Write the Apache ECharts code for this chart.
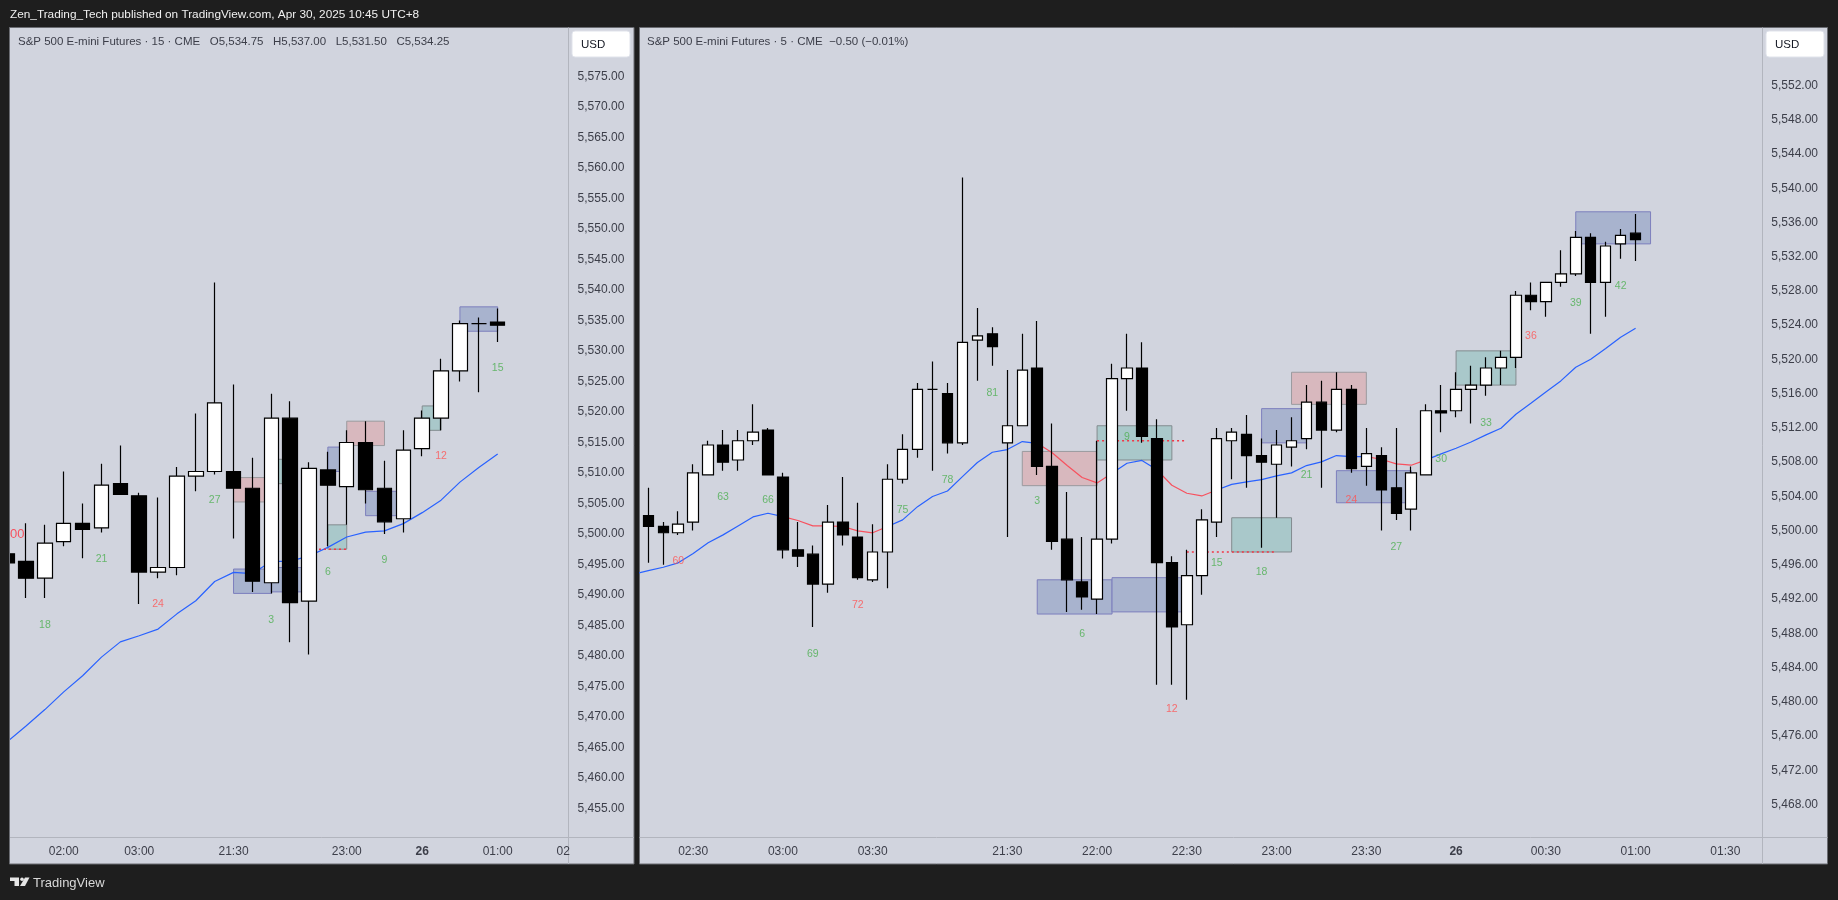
<!DOCTYPE html>
<html>
<head>
<meta charset="utf-8">
<title>S&P 500 E-mini Futures</title>
<script src="https://cdn.jsdelivr.net/npm/echarts@6/dist/echarts.min.js"></script>
<style>
  html, body { margin: 0; padding: 0; background: #1e1e1e; }
  #chart { width: 1838px; height: 900px; }
</style>
</head>
<body>
<div id="chart"></div>
<script>
// 15 min pane, one row per bar: open, close, low, high
const leftCandles = [
  [5496.75, 5495.25, 5495.25, 5496.75], [5495.5, 5492.75, 5489.5, 5501.75], [5492.75, 5498.5, 5489.5, 5501.5],
  [5498.75, 5501.75, 5498, 5510.25], [5501.75, 5500.75, 5496, 5505], [5501, 5508, 5500.25, 5511.5],
  [5508.25, 5506.5, 5506.5, 5514.5], [5506.25, 5493.75, 5488.5, 5506.75], [5493.75, 5494.5, 5492.75, 5506],
  [5494.5, 5509.5, 5493.25, 5511], [5509.5, 5510.25, 5507, 5519.75], [5510.25, 5521.5, 5509.75, 5541.25],
  [5510.25, 5507.5, 5499.25, 5524.5], [5507.5, 5492.25, 5490.5, 5512.5], [5492, 5519, 5490.25, 5523],
  [5519, 5488.75, 5482.25, 5521.75], [5489, 5510.75, 5480.25, 5511.75], [5510.5, 5508, 5498, 5513.5],
  [5507.75, 5515, 5501.5, 5517], [5515, 5507.25, 5505, 5518.5], [5507.5, 5502, 5500, 5512],
  [5502.5, 5513.75, 5500.25, 5517], [5514, 5519, 5512.75, 5520.25], [5519, 5526.75, 5517, 5528.75],
  [5526.75, 5534.5, 5525, 5535], [5534.5, 5534.5, 5523.25, 5535.5], [5534.75, 5534.25, 5531.5, 5537]
];
const leftEma = [
  5465.9, 5468.5, 5471.2, 5474.1, 5476.75, 5479.8, 5482.3, 5483.3, 5484.4, 5486.9, 5489.05, 5492.2, 5493.7, 5493.5,
  5495.5, 5495.5, 5496.4, 5497.8, 5499.5, 5500.3, 5500.5, 5501.7, 5503.5, 5505.55, 5508.5, 5510.9, 5513.1
];
// boxes: first bar, last bar, top price, bottom price
const leftBlueBoxes = [[24, 26, 5537.25, 5533.25], [17, 18, 5514.25, 5510.25], [19, 21, 5507, 5503], [12, 14, 5494.25, 5490.25], [14, 16, 5494.5, 5490.5]];
const leftPinkBoxes = [[18, 20, 5518.5, 5514.5], [12, 14, 5509.25, 5505.25]];
const leftTealBoxes = [[22, 23, 5521, 5517], [17, 18, 5501.5, 5497.5], [14, 15, 5512.25, 5508.25]];
const leftDotted = [[16, 18, 5497.5]];
const leftGreenNotes = [[2, 5485.1, '18'], [5, 5495.95, '21'], [11, 5505.6, '27'], [14, 5485.9, '3'], [17, 5493.75, '6'], [20, 5495.7, '9'], [26, 5527.15, '15']];
const leftRedNotes = [[8, 5488.55, '24'], [23, 5512.8, '12']];
const leftPriceTicks = [5455, 5460, 5465, 5470, 5475, 5480, 5485, 5490, 5495, 5500, 5505, 5510, 5515, 5520, 5525, 5530, 5535, 5540, 5545, 5550, 5555, 5560, 5565, 5570, 5575];
const leftTimeTicks = [3, 7, 12, 18, 22, 26, 29.47];
const leftTimeLabels = ['02:00', '03:00', '21:30', '23:00', '26', '01:00', '02'];

// 5 min pane
const rightCandles = [
  [5501.75, 5500.5, 5496.25, 5505], [5500.5, 5499.75, 5496, 5501], [5499.75, 5500.75, 5499.5, 5502.25],
  [5501, 5506.75, 5500, 5507.75], [5506.5, 5510, 5506.5, 5510.5], [5510, 5508, 5507, 5511.75],
  [5508.25, 5510.5, 5507, 5511.75], [5510.5, 5511.5, 5510, 5514.75], [5511.75, 5506.5, 5506.5, 5512],
  [5506.25, 5497.75, 5496.75, 5506.75], [5497.75, 5497, 5495.75, 5501], [5497.25, 5493.75, 5488.75, 5498.25],
  [5493.75, 5501, 5492.75, 5503], [5501, 5499.5, 5498.25, 5506.25], [5499.25, 5494.5, 5494.25, 5503.25],
  [5494.25, 5497.5, 5494, 5500.75], [5497.5, 5506, 5493.25, 5507.75], [5506, 5509.5, 5505.5, 5511.25],
  [5509.5, 5516.5, 5508.5, 5517.25], [5516.5, 5516.5, 5507, 5519.75], [5516, 5510.25, 5509, 5517.25],
  [5510.25, 5522, 5510, 5541.25], [5522.25, 5522.75, 5517.5, 5526], [5523, 5521.5, 5519.25, 5523.75],
  [5510.25, 5512.25, 5499.25, 5518.75], [5512.25, 5518.75, 5512.25, 5523], [5519, 5507.5, 5506.5, 5524.5],
  [5507.5, 5498.75, 5497.75, 5512.5], [5499, 5494.25, 5490.5, 5504.5], [5494, 5492.25, 5490.75, 5499.25],
  [5492, 5499, 5490.25, 5510.5], [5499, 5517.75, 5498.5, 5519.5], [5517.75, 5519, 5514, 5523],
  [5519, 5511, 5510.25, 5522], [5510.75, 5496.25, 5482, 5513], [5496.25, 5488.75, 5482, 5497],
  [5489, 5494.75, 5480.25, 5497.75], [5494.75, 5501.25, 5492.5, 5502.5], [5501, 5510.75, 5499.25, 5512],
  [5510.5, 5511.5, 5506, 5512], [5511.25, 5508.75, 5505, 5513.5], [5508.75, 5508, 5498, 5510.75],
  [5507.75, 5510, 5501.5, 5511.75], [5509.75, 5510.5, 5507.5, 5513.25], [5510.75, 5515, 5509.5, 5517],
  [5515, 5511.75, 5505, 5517.5], [5511.75, 5516.5, 5511.5, 5518.5], [5516.5, 5507.25, 5506.75, 5517],
  [5507.5, 5509, 5505.25, 5512], [5508.75, 5504.75, 5500, 5509.75], [5505, 5502, 5501.25, 5512],
  [5502.5, 5506.75, 5500, 5507.5], [5506.5, 5514, 5506.5, 5514.75], [5514, 5513.75, 5511.5, 5517],
  [5514, 5516.5, 5513.25, 5518.5], [5516.5, 5517, 5512.5, 5519.25], [5517, 5519, 5515.75, 5520.25],
  [5519, 5520.25, 5517, 5521], [5520.25, 5527.5, 5519, 5528], [5527.5, 5526.75, 5525.75, 5529],
  [5526.75, 5529, 5525, 5529], [5529, 5530, 5528.5, 5532.75], [5530, 5534.25, 5529.75, 5535],
  [5534.25, 5529, 5523, 5534.75], [5529, 5533.25, 5525, 5533.75], [5533.5, 5534.5, 5531.75, 5535.25],
  [5534.75, 5534, 5531.5, 5537]
];
// index 0 is the bar just left of the pane, the line runs in from there
const rightEma = [
  5494.9, 5495.33, 5495.72, 5496.23, 5497.32, 5498.57, 5499.5, 5500.55, 5501.6, 5502.03, 5501.64, 5501.18, 5500.55, 5500.55,
  5500.48, 5499.97, 5499.74, 5500.48, 5501.25, 5502.8, 5503.98, 5504.63, 5506.3, 5507.95, 5509.15, 5509.47, 5510.4, 5510.2,
  5509.1, 5507.6, 5506.2, 5505.57, 5506.7, 5507.87, 5508.2, 5507.1, 5505.3, 5504.36, 5504.05, 5504.75, 5505.4, 5505.7,
  5505.96, 5506.4, 5506.74, 5507.6, 5508.03, 5508.77, 5508.65, 5508.65, 5508.34, 5507.8, 5507.64, 5508.26, 5508.96, 5509.62,
  5510.36, 5511.18, 5511.96, 5513.6, 5514.88, 5516.2, 5517.49, 5519.09, 5520.02, 5521.27, 5522.6, 5523.64
];
const rightRedSpans = [[9, 16], [26, 31], [34, 38], [48, 52]];
const rightBlueBoxes = [[26, 31, 5494.25, 5490.25], [31, 36, 5494.5, 5490.5], [41, 44, 5514.25, 5510.25], [46, 51, 5507, 5503.25], [62, 67, 5537.25, 5533.5]];
const rightPinkBoxes = [[25, 30, 5509.25, 5505.25], [43, 48, 5518.5, 5514.75]];
const rightTealBoxes = [[30, 35, 5512.25, 5508.25], [39, 43, 5501.5, 5497.5], [54, 58, 5521, 5517]];
const rightDotted = [[30, 36, 5510.5], [36, 42, 5497.5]];
const rightGreenNotes = [
  [5, 5503.86, '63'], [8, 5503.6, '66'], [11, 5485.6, '69'], [17, 5502.35, '75'], [20, 5505.85, '78'], [23, 5516.1, '81'],
  [26, 5503.4, '3'], [29, 5487.85, '6'], [32, 5510.9, '9'], [38, 5496.15, '15'], [41, 5495.1, '18'], [44, 5506.45, '21'],
  [50, 5498.1, '27'], [53, 5508.4, '30'], [56, 5512.6, '33'], [62, 5526.6, '39'], [65, 5528.6, '42']
];
const rightRedNotes = [[2, 5496.4, '60'], [14, 5491.35, '72'], [35, 5479.1, '12'], [47, 5503.6, '24'], [59, 5522.67, '36']];
const rightPriceTicks = [5468, 5472, 5476, 5480, 5484, 5488, 5492, 5496, 5500, 5504, 5508, 5512, 5516, 5520, 5524, 5528, 5532, 5536, 5540, 5544, 5548, 5552];
const rightTimeTicks = [3, 9, 15, 24, 30, 36, 42, 48, 54, 60, 66, 72];
const rightTimeLabels = ['02:30', '03:00', '03:30', '21:30', '22:00', '22:30', '23:00', '23:30', '26', '00:30', '01:00', '01:30'];

const FONT = '"Liberation Sans", Arial, sans-serif';
const BG = '#1e1e1e';
const PANE = '#d1d4de';
const AXIS_LINE = '#b2b5be';
const EDGE = '#6a6c72';
const TEXT = '#3c3e49';
const BLUE = '#2962ff';
const RED = '#f7525f';

function candleSeries(axis, rows, width) {
  return {
    type: 'candlestick', xAxisIndex: axis, yAxisIndex: axis, z: 4, silent: true, barWidth: width,
    itemStyle: { color: '#ffffff', color0: '#000000', borderColor: '#000000', borderColor0: '#000000', borderWidth: 1.2 },
    encode: { x: 0, y: [1, 2, 3, 4] },
    data: rows.map((r, i) => [i].concat(r))
  };
}

function boxSeries(axis, rows, fill, stroke) {
  return {
    type: 'custom', xAxisIndex: axis, yAxisIndex: axis, z: 1, silent: true,
    encode: { x: [0, 1], y: [2, 3] },
    data: rows,
    renderItem: (params, api) => {
      const a = api.coord([api.value(0), api.value(2)]);
      const b = api.coord([api.value(1), api.value(3)]);
      return {
        type: 'rect',
        shape: { x: a[0], y: a[1], width: b[0] - a[0], height: b[1] - a[1] },
        style: { fill: fill, stroke: stroke, lineWidth: 1 }
      };
    }
  };
}

function lineSeries(axis, points, color) {
  return {
    type: 'line', xAxisIndex: axis, yAxisIndex: axis, z: 2, silent: true, symbol: 'none',
    lineStyle: { color: color, width: 1.2 }, data: points
  };
}

function dottedSeries(axis, seg) {
  return {
    type: 'line', xAxisIndex: axis, yAxisIndex: axis, z: 2, silent: true, symbol: 'none',
    lineStyle: { color: '#f23645', width: 1.6, type: [2, 3] },
    data: [[seg[0], seg[2]], [seg[1], seg[2]]]
  };
}

function noteSeries(axis, rows, color) {
  return {
    type: 'scatter', xAxisIndex: axis, yAxisIndex: axis, z: 5, silent: true, symbolSize: 1,
    itemStyle: { color: 'transparent' },
    label: { show: true, position: 'inside', color: color, fontSize: 10.5, fontFamily: FONT, formatter: p => p.value[2] },
    data: rows
  };
}

function xAxis(grid, min, max, ticks, labels) {
  return {
    type: 'value', gridIndex: grid, min: min, max: max, z: 5,
    axisLine: { show: false }, axisTick: { show: false }, splitLine: { show: false },
    axisLabel: {
      customValues: ticks, margin: 9, color: TEXT, fontSize: 12, fontFamily: FONT,
      formatter: v => {
        const s = labels[ticks.indexOf(v)];
        return s === '26' ? '{b|26}' : s;
      },
      rich: { b: { fontWeight: 'bold', color: TEXT, fontSize: 12, fontFamily: FONT } }
    }
  };
}

function yAxis(grid, min, max, ticks) {
  return {
    type: 'value', gridIndex: grid, position: 'right', min: min, max: max, z: 5,
    axisLine: { show: false }, axisTick: { show: false }, splitLine: { show: false },
    axisLabel: {
      customValues: ticks, margin: 9, color: TEXT, fontSize: 12, fontFamily: FONT,
      formatter: v => v.toLocaleString('en-US', { minimumFractionDigits: 2 })
    }
  };
}

function pane(x, w, axisX) {
  return [
    { type: 'rect', z: -1, shape: { x: x, y: 27.5, width: w, height: 836.5 }, style: { fill: PANE, stroke: EDGE, lineWidth: 1 } },
    { type: 'line', shape: { x1: x, y1: 837.5, x2: x + w, y2: 837.5 }, style: { stroke: AXIS_LINE, lineWidth: 1 } },
    { type: 'line', shape: { x1: axisX, y1: 27.5, x2: axisX, y2: 864 }, style: { stroke: AXIS_LINE, lineWidth: 1 } }
  ];
}

function usdButton(x) {
  return [
    { type: 'rect', shape: { x: x, y: 31, width: 58, height: 26, r: 3 }, style: { fill: '#ffffff', stroke: '#e0e3eb', lineWidth: 1 } },
    { type: 'text', x: x + 9, y: 44.5, style: { text: 'USD', fill: '#131722', font: '11.5px ' + FONT, textVerticalAlign: 'middle' } }
  ];
}

function label(x, y, text, color, size) {
  return { type: 'text', x: x, y: y, style: { text: text, fill: color, font: size + 'px ' + FONT, textVerticalAlign: 'middle' } };
}

const graphicEls = [].concat(
  pane(9.5, 624.5, 568.5),
  pane(639.5, 1188, 1762.5),
  usdButton(572),
  usdButton(1766),
  [
    // first 15 min bar hangs over the pane edge, candlestick does not clip it
    { type: 'rect', z: 6, shape: { x: 0, y: 27, width: 9, height: 837 }, style: { fill: BG } },
    { type: 'line', z: 6, shape: { x1: 9.5, y1: 27.5, x2: 9.5, y2: 864 }, style: { stroke: EDGE, lineWidth: 1 } },
    label(10, 15, 'Zen_Trading_Tech published on TradingView.com, Apr 30, 2025 10:45 UTC+8', '#f0f0f0', 11.8),
    label(18, 42, 'S&P 500 E-mini Futures · 15 · CME   O5,534.75   H5,537.00   L5,531.50   C5,534.25', TEXT, 11.5),
    label(647, 42, 'S&P 500 E-mini Futures · 5 · CME  −0.50 (−0.01%)', TEXT, 11.5),
    label(10, 534, '00', RED, 13),
    label(33, 883, 'TradingView', '#d8d8d8', 13),
    { type: 'polygon', shape: { points: [[10, 877.5], [19, 877.5], [19, 886], [14.5, 886], [14.5, 881], [10, 881]] }, style: { fill: '#e6e6e6' } },
    { type: 'circle', shape: { cx: 22, cy: 879.3, r: 1.8 }, style: { fill: '#e6e6e6' } },
    { type: 'polygon', shape: { points: [[25, 877.5], [29.5, 877.5], [25, 886], [20, 886]] }, style: { fill: '#e6e6e6' } }
  ]
);

const chart = echarts.init(document.getElementById('chart'), null, { renderer: 'canvas' });

const rightPoints = rightEma.map((v, i) => [i - 1, v]);
const rightRedPoints = rightPoints.map(p => rightRedSpans.some(s => p[0] >= s[0] && p[0] <= s[1]) ? p : [p[0], null]);
const rightBluePoints = rightPoints.map(p => rightRedSpans.some(s => p[0] > s[0] && p[0] < s[1]) ? [p[0], null] : p);

chart.setOption({
  animation: false,
  backgroundColor: BG,
  graphic: { elements: graphicEls },
  grid: [
    { left: 10, top: 27, width: 558.6, height: 810 },
    { left: 640, top: 27, width: 1122.3, height: 810 }
  ],
  xAxis: [
    xAxis(0, 0.151, 29.76, leftTimeTicks, leftTimeLabels),
    xAxis(1, -0.555, 74.47, rightTimeTicks, rightTimeLabels)
  ],
  yAxis: [
    yAxis(0, 5450.3, 5583.15, leftPriceTicks),
    yAxis(1, 5464.2, 5558.84, rightPriceTicks)
  ],
  series: [
    boxSeries(0, leftBlueBoxes, '#a8b3ce', '#7d7fbd'),
    boxSeries(0, leftPinkBoxes, '#d8b8be', '#9a9a9e'),
    boxSeries(0, leftTealBoxes, '#a9c8ca', '#838b8f'),
    boxSeries(1, rightBlueBoxes, '#a8b3ce', '#7d7fbd'),
    boxSeries(1, rightPinkBoxes, '#d8b8be', '#9a9a9e'),
    boxSeries(1, rightTealBoxes, '#a9c8ca', '#838b8f'),
    lineSeries(0, leftEma.map((v, i) => [i, v]), BLUE),
    lineSeries(1, rightBluePoints, BLUE),
    lineSeries(1, rightRedPoints, RED)
  ].concat(
    leftDotted.map(s => dottedSeries(0, s)),
    rightDotted.map(s => dottedSeries(1, s)),
    [
      candleSeries(0, leftCandles, 15),
      candleSeries(1, rightCandles, 11),
      noteSeries(0, leftGreenNotes, '#4caf50'),
      noteSeries(0, leftRedNotes, '#ff5252'),
      noteSeries(1, rightGreenNotes, '#4caf50'),
      noteSeries(1, rightRedNotes, '#ff5252')
    ]
  )
});
</script>
</body>
</html>
